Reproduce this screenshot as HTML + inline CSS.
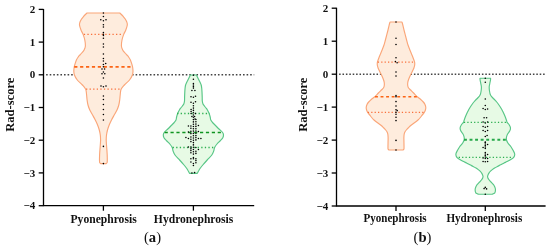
<!DOCTYPE html>
<html><head><meta charset="utf-8"><title>Rad-score violin plots</title>
<style>
html,body{margin:0;padding:0;background:#fff;}
body{width:550px;height:250px;overflow:hidden;}
svg{display:block;}
text{font-family:"Liberation Serif","Times New Roman",serif;fill:#111;}
.tk{font-size:11px;font-weight:bold;}
.cat{font-weight:bold;}
.yl{font-size:12.6px;font-weight:bold;}
.cap{font-size:14.6px;}
</style></head><body>
<svg width="550" height="250" viewBox="0 0 550 250">
<rect width="550" height="250" fill="#fff"/>
<line x1="46.1" y1="74.8" x2="254.2" y2="74.8" stroke="#444" stroke-width="1.5" stroke-dasharray="1.6 1.98"/>
<path d="M119.80,13.00 C120.07,13.25 120.80,13.88 121.40,14.50 C122.00,15.12 122.73,15.92 123.40,16.70 C124.07,17.48 124.83,18.32 125.40,19.20 C125.97,20.08 126.48,21.03 126.80,22.00 C127.12,22.97 127.47,23.67 127.30,25.00 C127.13,26.33 126.40,28.43 125.80,30.00 C125.20,31.57 124.33,32.73 123.70,34.40 C123.07,36.07 122.38,38.07 122.00,40.00 C121.62,41.93 121.28,44.33 121.40,46.00 C121.52,47.67 122.10,48.83 122.70,50.00 C123.30,51.17 124.30,52.17 125.00,53.00 C125.70,53.83 126.30,54.33 126.90,55.00 C127.50,55.67 128.02,56.17 128.60,57.00 C129.18,57.83 129.87,58.83 130.40,60.00 C130.93,61.17 131.43,62.83 131.80,64.00 C132.17,65.17 132.40,65.83 132.60,67.00 C132.80,68.17 133.03,69.67 133.00,71.00 C132.97,72.33 132.98,73.50 132.40,75.00 C131.82,76.50 130.83,78.33 129.50,80.00 C128.17,81.67 125.80,83.47 124.40,85.00 C123.00,86.53 121.78,87.70 121.10,89.20 C120.42,90.70 120.53,92.20 120.30,94.00 C120.07,95.80 119.95,98.17 119.70,100.00 C119.45,101.83 119.25,103.33 118.80,105.00 C118.35,106.67 117.77,108.33 117.00,110.00 C116.23,111.67 115.12,113.33 114.20,115.00 C113.28,116.67 112.33,118.33 111.50,120.00 C110.67,121.67 109.87,123.33 109.20,125.00 C108.53,126.67 107.95,128.33 107.50,130.00 C107.05,131.67 106.72,133.33 106.50,135.00 C106.28,136.67 106.20,138.33 106.20,140.00 C106.20,141.67 106.38,143.33 106.50,145.00 C106.62,146.67 106.78,148.33 106.90,150.00 C107.02,151.67 107.13,153.33 107.20,155.00 C107.27,156.67 107.32,158.73 107.30,160.00 C107.28,161.27 107.30,162.00 107.10,162.60 C106.90,163.20 106.27,163.43 106.10,163.60 L100.70,163.60 L100.70,163.60 C100.53,163.43 99.90,163.20 99.70,162.60 C99.50,162.00 99.52,161.27 99.50,160.00 C99.48,158.73 99.53,156.67 99.60,155.00 C99.67,153.33 99.78,151.67 99.90,150.00 C100.02,148.33 100.18,146.67 100.30,145.00 C100.42,143.33 100.60,141.67 100.60,140.00 C100.60,138.33 100.52,136.67 100.30,135.00 C100.08,133.33 99.75,131.67 99.30,130.00 C98.85,128.33 98.27,126.67 97.60,125.00 C96.93,123.33 96.13,121.67 95.30,120.00 C94.47,118.33 93.52,116.67 92.60,115.00 C91.68,113.33 90.57,111.67 89.80,110.00 C89.03,108.33 88.45,106.67 88.00,105.00 C87.55,103.33 87.35,101.83 87.10,100.00 C86.85,98.17 86.73,95.80 86.50,94.00 C86.27,92.20 86.38,90.70 85.70,89.20 C85.02,87.70 83.80,86.53 82.40,85.00 C81.00,83.47 78.63,81.67 77.30,80.00 C75.97,78.33 74.98,76.50 74.40,75.00 C73.82,73.50 73.83,72.33 73.80,71.00 C73.77,69.67 74.00,68.17 74.20,67.00 C74.40,65.83 74.63,65.17 75.00,64.00 C75.37,62.83 75.87,61.17 76.40,60.00 C76.93,58.83 77.62,57.83 78.20,57.00 C78.78,56.17 79.30,55.67 79.90,55.00 C80.50,54.33 81.10,53.83 81.80,53.00 C82.50,52.17 83.50,51.17 84.10,50.00 C84.70,48.83 85.28,47.67 85.40,46.00 C85.52,44.33 85.18,41.93 84.80,40.00 C84.42,38.07 83.73,36.07 83.10,34.40 C82.47,32.73 81.60,31.57 81.00,30.00 C80.40,28.43 79.67,26.33 79.50,25.00 C79.33,23.67 79.68,22.97 80.00,22.00 C80.32,21.03 80.83,20.08 81.40,19.20 C81.97,18.32 82.73,17.48 83.40,16.70 C84.07,15.92 84.80,15.12 85.40,14.50 C86.00,13.88 86.73,13.25 87.00,13.00 Z" fill="#FEECDD" stroke="#FAA679" stroke-width="1.15" stroke-linejoin="round"/>
<line x1="83.8" y1="34.4" x2="123.0" y2="34.4" stroke="#F9703C" stroke-width="1.3" stroke-dasharray="1.3 2.28"/>
<line x1="74.2" y1="66.9" x2="132.6" y2="66.9" stroke="#FB6415" stroke-width="1.75" stroke-dasharray="3.2 2.7"/>
<line x1="86.0" y1="89.2" x2="120.8" y2="89.2" stroke="#F9703C" stroke-width="1.3" stroke-dasharray="1.3 2.28"/>
<path d="M196.40,75.00 C196.57,75.33 196.98,76.17 197.40,77.00 C197.82,77.83 198.40,79.00 198.90,80.00 C199.40,81.00 200.02,82.17 200.40,83.00 C200.78,83.83 200.98,84.17 201.20,85.00 C201.42,85.83 201.57,86.83 201.70,88.00 C201.83,89.17 201.92,90.50 202.00,92.00 C202.08,93.50 202.15,95.50 202.20,97.00 C202.25,98.50 202.17,99.83 202.30,101.00 C202.43,102.17 202.65,103.17 203.00,104.00 C203.35,104.83 203.90,105.33 204.40,106.00 C204.90,106.67 205.50,107.33 206.00,108.00 C206.50,108.67 206.88,109.08 207.40,110.00 C207.92,110.92 208.63,112.33 209.10,113.50 C209.57,114.67 209.92,115.92 210.20,117.00 C210.48,118.08 210.33,119.00 210.80,120.00 C211.27,121.00 212.13,122.00 213.00,123.00 C213.87,124.00 215.00,125.00 216.00,126.00 C217.00,127.00 217.90,127.92 219.00,129.00 C220.10,130.08 221.85,131.50 222.60,132.50 C223.35,133.50 223.48,134.08 223.50,135.00 C223.52,135.92 223.28,137.00 222.70,138.00 C222.12,139.00 220.95,140.00 220.00,141.00 C219.05,142.00 217.90,142.92 217.00,144.00 C216.10,145.08 215.15,146.33 214.60,147.50 C214.05,148.67 214.17,149.75 213.70,151.00 C213.23,152.25 212.88,153.50 211.80,155.00 C210.72,156.50 208.70,158.33 207.20,160.00 C205.70,161.67 203.93,163.67 202.80,165.00 C201.67,166.33 201.02,167.17 200.40,168.00 C199.78,168.83 199.50,169.33 199.10,170.00 C198.70,170.67 198.30,171.45 198.00,172.00 C197.70,172.55 197.42,173.08 197.30,173.30 L189.50,173.30 L189.50,173.30 C189.38,173.08 189.10,172.55 188.80,172.00 C188.50,171.45 188.10,170.67 187.70,170.00 C187.30,169.33 187.02,168.83 186.40,168.00 C185.78,167.17 185.13,166.33 184.00,165.00 C182.87,163.67 181.10,161.67 179.60,160.00 C178.10,158.33 176.08,156.50 175.00,155.00 C173.92,153.50 173.57,152.25 173.10,151.00 C172.63,149.75 172.75,148.67 172.20,147.50 C171.65,146.33 170.70,145.08 169.80,144.00 C168.90,142.92 167.75,142.00 166.80,141.00 C165.85,140.00 164.68,139.00 164.10,138.00 C163.52,137.00 163.28,135.92 163.30,135.00 C163.32,134.08 163.45,133.50 164.20,132.50 C164.95,131.50 166.70,130.08 167.80,129.00 C168.90,127.92 169.80,127.00 170.80,126.00 C171.80,125.00 172.93,124.00 173.80,123.00 C174.67,122.00 175.53,121.00 176.00,120.00 C176.47,119.00 176.32,118.08 176.60,117.00 C176.88,115.92 177.23,114.67 177.70,113.50 C178.17,112.33 178.88,110.92 179.40,110.00 C179.92,109.08 180.30,108.67 180.80,108.00 C181.30,107.33 181.90,106.67 182.40,106.00 C182.90,105.33 183.45,104.83 183.80,104.00 C184.15,103.17 184.37,102.17 184.50,101.00 C184.63,99.83 184.55,98.50 184.60,97.00 C184.65,95.50 184.72,93.50 184.80,92.00 C184.88,90.50 184.97,89.17 185.10,88.00 C185.23,86.83 185.38,85.83 185.60,85.00 C185.82,84.17 186.02,83.83 186.40,83.00 C186.78,82.17 187.40,81.00 187.90,80.00 C188.40,79.00 188.98,77.83 189.40,77.00 C189.82,76.17 190.23,75.33 190.40,75.00 Z" fill="#E7FAE5" stroke="#58C686" stroke-width="1.15" stroke-linejoin="round"/>
<line x1="177.1" y1="113.5" x2="209.7" y2="113.5" stroke="#2DB050" stroke-width="1.3" stroke-dasharray="1.3 2.28"/>
<line x1="164.6" y1="132.5" x2="222.2" y2="132.5" stroke="#0F9420" stroke-width="1.45" stroke-dasharray="3.2 2.7"/>
<line x1="172.6" y1="147.5" x2="214.2" y2="147.5" stroke="#2DB050" stroke-width="1.3" stroke-dasharray="1.3 2.28"/>
<circle cx="103.4" cy="13.0" r="0.8"/>
<circle cx="103.4" cy="16.5" r="0.8"/>
<circle cx="100.8" cy="19.8" r="0.8"/>
<circle cx="106.0" cy="19.8" r="0.8"/>
<circle cx="103.4" cy="20.8" r="0.8"/>
<circle cx="103.4" cy="24.7" r="0.8"/>
<circle cx="103.4" cy="27.0" r="0.8"/>
<circle cx="103.4" cy="32.5" r="0.8"/>
<circle cx="103.4" cy="34.3" r="0.8"/>
<circle cx="103.4" cy="35.5" r="0.8"/>
<circle cx="103.4" cy="38.3" r="0.8"/>
<circle cx="103.4" cy="44.0" r="0.8"/>
<circle cx="103.4" cy="47.0" r="0.8"/>
<circle cx="103.4" cy="54.0" r="0.8"/>
<circle cx="103.4" cy="58.5" r="0.8"/>
<circle cx="103.4" cy="61.0" r="0.8"/>
<circle cx="103.4" cy="64.5" r="0.8"/>
<circle cx="105.7" cy="63.5" r="0.8"/>
<circle cx="103.4" cy="66.8" r="0.8"/>
<circle cx="102.0" cy="69.0" r="0.8"/>
<circle cx="104.6" cy="69.0" r="0.8"/>
<circle cx="103.4" cy="72.0" r="0.8"/>
<circle cx="102.0" cy="73.8" r="0.8"/>
<circle cx="104.8" cy="73.8" r="0.8"/>
<circle cx="103.4" cy="78.0" r="0.8"/>
<circle cx="101.0" cy="86.0" r="0.8"/>
<circle cx="103.4" cy="86.7" r="0.8"/>
<circle cx="106.0" cy="86.0" r="0.8"/>
<circle cx="103.4" cy="96.0" r="0.8"/>
<circle cx="103.4" cy="99.5" r="0.8"/>
<circle cx="103.4" cy="104.5" r="0.8"/>
<circle cx="103.4" cy="109.5" r="0.8"/>
<circle cx="103.4" cy="114.5" r="0.8"/>
<circle cx="103.4" cy="120.0" r="0.8"/>
<circle cx="103.4" cy="146.4" r="0.8"/>
<circle cx="103.4" cy="163.6" r="0.8"/>
<circle cx="193.4" cy="75.3" r="0.8"/>
<circle cx="193.4" cy="79.3" r="0.8"/>
<circle cx="193.4" cy="83.5" r="0.8"/>
<circle cx="193.4" cy="85.0" r="0.8"/>
<circle cx="193.4" cy="86.6" r="0.8"/>
<circle cx="193.4" cy="88.1" r="0.8"/>
<circle cx="191.9" cy="90.5" r="0.8"/>
<circle cx="194.9" cy="90.5" r="0.8"/>
<circle cx="191.0" cy="96.7" r="0.8"/>
<circle cx="193.4" cy="97.3" r="0.8"/>
<circle cx="195.5" cy="96.3" r="0.8"/>
<circle cx="191.0" cy="102.3" r="0.8"/>
<circle cx="193.4" cy="103.3" r="0.8"/>
<circle cx="195.5" cy="101.7" r="0.8"/>
<circle cx="193.4" cy="105.8" r="0.8"/>
<circle cx="193.4" cy="108.1" r="0.8"/>
<circle cx="193.4" cy="110.4" r="0.8"/>
<circle cx="193.4" cy="112.7" r="0.8"/>
<circle cx="193.4" cy="115.0" r="0.8"/>
<circle cx="193.4" cy="117.3" r="0.8"/>
<circle cx="193.4" cy="119.6" r="0.8"/>
<circle cx="193.4" cy="121.9" r="0.8"/>
<circle cx="193.4" cy="124.2" r="0.8"/>
<circle cx="193.4" cy="126.5" r="0.8"/>
<circle cx="193.4" cy="128.8" r="0.8"/>
<circle cx="193.4" cy="131.1" r="0.8"/>
<circle cx="193.4" cy="133.4" r="0.8"/>
<circle cx="193.4" cy="135.7" r="0.8"/>
<circle cx="193.4" cy="138.0" r="0.8"/>
<circle cx="193.4" cy="140.3" r="0.8"/>
<circle cx="193.4" cy="142.6" r="0.8"/>
<circle cx="193.4" cy="144.9" r="0.8"/>
<circle cx="193.4" cy="147.2" r="0.8"/>
<circle cx="193.4" cy="149.5" r="0.8"/>
<circle cx="193.4" cy="151.8" r="0.8"/>
<circle cx="193.4" cy="154.1" r="0.8"/>
<circle cx="193.4" cy="157.5" r="0.8"/>
<circle cx="193.4" cy="158.8" r="0.8"/>
<circle cx="193.4" cy="163.5" r="0.8"/>
<circle cx="193.4" cy="165.5" r="0.8"/>
<circle cx="191.1" cy="109.5" r="0.8"/>
<circle cx="191.1" cy="111.5" r="0.8"/>
<circle cx="191.1" cy="113.5" r="0.8"/>
<circle cx="195.4" cy="113.5" r="0.8"/>
<circle cx="191.9" cy="116.5" r="0.8"/>
<circle cx="194.6" cy="116.5" r="0.8"/>
<circle cx="195.0" cy="119.0" r="0.8"/>
<circle cx="195.9" cy="119.5" r="0.8"/>
<circle cx="195.9" cy="121.8" r="0.8"/>
<circle cx="195.9" cy="124.1" r="0.8"/>
<circle cx="195.9" cy="126.4" r="0.8"/>
<circle cx="195.9" cy="128.7" r="0.8"/>
<circle cx="195.9" cy="131.0" r="0.8"/>
<circle cx="190.9" cy="126.0" r="0.8"/>
<circle cx="190.9" cy="128.3" r="0.8"/>
<circle cx="188.4" cy="126.0" r="0.8"/>
<circle cx="198.4" cy="125.5" r="0.8"/>
<circle cx="188.4" cy="132.0" r="0.8"/>
<circle cx="198.4" cy="131.5" r="0.8"/>
<circle cx="190.9" cy="131.3" r="0.8"/>
<circle cx="190.9" cy="133.6" r="0.8"/>
<circle cx="195.9" cy="133.3" r="0.8"/>
<circle cx="195.9" cy="135.6" r="0.8"/>
<circle cx="185.9" cy="137.5" r="0.8"/>
<circle cx="188.4" cy="138.5" r="0.8"/>
<circle cx="198.4" cy="138.5" r="0.8"/>
<circle cx="200.9" cy="138.5" r="0.8"/>
<circle cx="190.9" cy="137.0" r="0.8"/>
<circle cx="190.9" cy="139.3" r="0.8"/>
<circle cx="190.9" cy="141.6" r="0.8"/>
<circle cx="195.9" cy="137.6" r="0.8"/>
<circle cx="195.9" cy="139.9" r="0.8"/>
<circle cx="188.4" cy="147.0" r="0.8"/>
<circle cx="190.9" cy="147.0" r="0.8"/>
<circle cx="190.9" cy="148.8" r="0.8"/>
<circle cx="195.9" cy="147.5" r="0.8"/>
<circle cx="198.4" cy="149.5" r="0.8"/>
<circle cx="190.9" cy="150.6" r="0.8"/>
<circle cx="190.9" cy="152.8" r="0.8"/>
<circle cx="195.9" cy="151.2" r="0.8"/>
<circle cx="195.9" cy="153.4" r="0.8"/>
<circle cx="190.9" cy="158.8" r="0.8"/>
<circle cx="195.9" cy="158.8" r="0.8"/>
<circle cx="195.9" cy="160.6" r="0.8"/>
<circle cx="190.9" cy="162.0" r="0.8"/>
<circle cx="195.9" cy="162.8" r="0.8"/>
<circle cx="191.9" cy="173.0" r="0.8"/>
<circle cx="194.6" cy="172.6" r="0.8"/>
<path d="M43.5,8.9 V205.7 H254.2" fill="none" stroke="#000" stroke-width="1.3"/>
<line x1="38.7" y1="205.7" x2="43.5" y2="205.7" stroke="#000" stroke-width="1.3"/>
<text x="35.2" y="209.2" text-anchor="end" class="tk">−4</text>
<line x1="38.7" y1="172.9" x2="43.5" y2="172.9" stroke="#000" stroke-width="1.3"/>
<text x="35.2" y="176.5" text-anchor="end" class="tk">−3</text>
<line x1="38.7" y1="140.2" x2="43.5" y2="140.2" stroke="#000" stroke-width="1.3"/>
<text x="35.2" y="143.8" text-anchor="end" class="tk">−2</text>
<line x1="38.7" y1="107.5" x2="43.5" y2="107.5" stroke="#000" stroke-width="1.3"/>
<text x="35.2" y="111.1" text-anchor="end" class="tk">−1</text>
<line x1="38.7" y1="74.8" x2="43.5" y2="74.8" stroke="#000" stroke-width="1.3"/>
<text x="35.2" y="78.4" text-anchor="end" class="tk">0</text>
<line x1="38.7" y1="42.1" x2="43.5" y2="42.1" stroke="#000" stroke-width="1.3"/>
<text x="35.2" y="45.7" text-anchor="end" class="tk">1</text>
<line x1="38.7" y1="9.4" x2="43.5" y2="9.4" stroke="#000" stroke-width="1.3"/>
<text x="35.2" y="13.0" text-anchor="end" class="tk">2</text>
<line x1="103.4" y1="205.7" x2="103.4" y2="210.7" stroke="#000" stroke-width="1.3"/>
<line x1="193.4" y1="205.7" x2="193.4" y2="210.7" stroke="#000" stroke-width="1.3"/>
<text transform="translate(103.6,222.8) scale(1,1)" text-anchor="middle" class="cat" font-size="11.6">Pyonephrosis</text>
<text transform="translate(193.6,222.8) scale(1,1)" text-anchor="middle" class="cat" font-size="11.6">Hydronephrosis</text>
<text transform="translate(14.1,104.7) rotate(-90)" text-anchor="middle" class="yl">Rad-score</text>
<text x="152.5" y="241.5" text-anchor="middle" class="cap">(<tspan font-weight="bold">a</tspan>)</text>
<line x1="339.1" y1="74.2" x2="545.6" y2="74.2" stroke="#444" stroke-width="1.5" stroke-dasharray="1.55 1.85"/>
<path d="M401.80,22.00 C401.88,22.17 401.93,21.67 402.30,23.00 C402.67,24.33 403.28,27.17 404.00,30.00 C404.72,32.83 405.93,37.50 406.60,40.00 C407.27,42.50 407.45,43.33 408.00,45.00 C408.55,46.67 409.17,48.17 409.90,50.00 C410.63,51.83 411.73,54.33 412.40,56.00 C413.07,57.67 413.53,58.97 413.90,60.00 C414.27,61.03 414.47,61.37 414.60,62.20 C414.73,63.03 414.82,64.03 414.70,65.00 C414.58,65.97 414.18,67.17 413.90,68.00 C413.62,68.83 413.57,68.83 413.00,70.00 C412.43,71.17 411.27,73.33 410.50,75.00 C409.73,76.67 408.87,78.67 408.40,80.00 C407.93,81.33 407.80,82.00 407.70,83.00 C407.60,84.00 407.65,85.17 407.80,86.00 C407.95,86.83 408.13,87.33 408.60,88.00 C409.07,88.67 409.77,89.17 410.60,90.00 C411.43,90.83 412.50,91.88 413.60,93.00 C414.70,94.12 416.10,95.70 417.20,96.70 C418.30,97.70 419.18,98.12 420.20,99.00 C421.22,99.88 422.50,101.08 423.30,102.00 C424.10,102.92 424.58,103.58 425.00,104.50 C425.42,105.42 425.73,106.58 425.80,107.50 C425.87,108.42 425.65,109.18 425.40,110.00 C425.15,110.82 424.95,111.40 424.30,112.40 C423.65,113.40 422.55,114.73 421.50,116.00 C420.45,117.27 419.68,118.50 418.00,120.00 C416.32,121.50 413.03,123.67 411.40,125.00 C409.77,126.33 409.05,127.17 408.20,128.00 C407.35,128.83 406.85,129.33 406.30,130.00 C405.75,130.67 405.25,131.33 404.90,132.00 C404.55,132.67 404.37,133.17 404.20,134.00 C404.03,134.83 403.95,136.00 403.90,137.00 C403.85,138.00 403.88,138.67 403.90,140.00 C403.92,141.33 403.98,143.57 404.00,145.00 C404.02,146.43 404.07,147.85 404.00,148.60 C403.93,149.35 403.80,149.27 403.60,149.50 C403.40,149.73 402.93,149.92 402.80,150.00 L389.20,150.00 L389.20,150.00 C389.07,149.92 388.60,149.73 388.40,149.50 C388.20,149.27 388.07,149.35 388.00,148.60 C387.93,147.85 387.98,146.43 388.00,145.00 C388.02,143.57 388.08,141.33 388.10,140.00 C388.12,138.67 388.15,138.00 388.10,137.00 C388.05,136.00 387.97,134.83 387.80,134.00 C387.63,133.17 387.45,132.67 387.10,132.00 C386.75,131.33 386.25,130.67 385.70,130.00 C385.15,129.33 384.65,128.83 383.80,128.00 C382.95,127.17 382.23,126.33 380.60,125.00 C378.97,123.67 375.68,121.50 374.00,120.00 C372.32,118.50 371.55,117.27 370.50,116.00 C369.45,114.73 368.35,113.40 367.70,112.40 C367.05,111.40 366.85,110.82 366.60,110.00 C366.35,109.18 366.13,108.42 366.20,107.50 C366.27,106.58 366.58,105.42 367.00,104.50 C367.42,103.58 367.90,102.92 368.70,102.00 C369.50,101.08 370.78,99.88 371.80,99.00 C372.82,98.12 373.70,97.70 374.80,96.70 C375.90,95.70 377.30,94.12 378.40,93.00 C379.50,91.88 380.57,90.83 381.40,90.00 C382.23,89.17 382.93,88.67 383.40,88.00 C383.87,87.33 384.05,86.83 384.20,86.00 C384.35,85.17 384.40,84.00 384.30,83.00 C384.20,82.00 384.07,81.33 383.60,80.00 C383.13,78.67 382.27,76.67 381.50,75.00 C380.73,73.33 379.57,71.17 379.00,70.00 C378.43,68.83 378.38,68.83 378.10,68.00 C377.82,67.17 377.42,65.97 377.30,65.00 C377.18,64.03 377.27,63.03 377.40,62.20 C377.53,61.37 377.73,61.03 378.10,60.00 C378.47,58.97 378.93,57.67 379.60,56.00 C380.27,54.33 381.37,51.83 382.10,50.00 C382.83,48.17 383.45,46.67 384.00,45.00 C384.55,43.33 384.73,42.50 385.40,40.00 C386.07,37.50 387.28,32.83 388.00,30.00 C388.72,27.17 389.33,24.33 389.70,23.00 C390.07,21.67 390.12,22.17 390.20,22.00 Z" fill="#FEECDD" stroke="#FAA679" stroke-width="1.15" stroke-linejoin="round"/>
<line x1="377.8" y1="62.1" x2="414.2" y2="62.1" stroke="#F9703C" stroke-width="1.3" stroke-dasharray="1.25 2.15"/>
<line x1="375.0" y1="96.7" x2="417.0" y2="96.7" stroke="#FB6415" stroke-width="1.4" stroke-dasharray="2.9 2.66"/>
<line x1="367.8" y1="112.4" x2="424.2" y2="112.4" stroke="#F9703C" stroke-width="1.3" stroke-dasharray="1.25 2.15"/>
<path d="M490.60,78.20 C490.58,78.50 490.62,79.20 490.50,80.00 C490.38,80.80 490.10,82.00 489.90,83.00 C489.70,84.00 489.42,85.17 489.30,86.00 C489.18,86.83 489.17,87.17 489.20,88.00 C489.23,88.83 489.35,90.00 489.50,91.00 C489.65,92.00 489.83,93.17 490.10,94.00 C490.37,94.83 490.63,95.33 491.10,96.00 C491.57,96.67 492.27,97.33 492.90,98.00 C493.53,98.67 494.27,99.33 494.90,100.00 C495.53,100.67 496.08,101.25 496.70,102.00 C497.32,102.75 498.00,103.67 498.60,104.50 C499.20,105.33 499.77,106.17 500.30,107.00 C500.83,107.83 501.33,108.67 501.80,109.50 C502.27,110.33 502.52,110.75 503.10,112.00 C503.68,113.25 504.70,115.50 505.30,117.00 C505.90,118.50 506.40,120.10 506.70,121.00 C507.00,121.90 506.67,121.73 507.10,122.40 C507.53,123.07 508.73,124.07 509.30,125.00 C509.87,125.93 510.43,127.00 510.50,128.00 C510.57,129.00 510.18,130.00 509.70,131.00 C509.22,132.00 508.13,133.00 507.60,134.00 C507.07,135.00 506.68,136.00 506.50,137.00 C506.32,138.00 506.27,139.00 506.50,140.00 C506.73,141.00 507.13,141.83 507.90,143.00 C508.67,144.17 510.27,145.83 511.10,147.00 C511.93,148.17 512.30,148.83 512.90,150.00 C513.50,151.17 514.57,152.77 514.70,154.00 C514.83,155.23 514.35,156.48 513.70,157.40 C513.05,158.32 511.90,158.80 510.80,159.50 C509.70,160.20 508.22,161.02 507.10,161.60 C505.98,162.18 505.17,162.47 504.10,163.00 C503.03,163.53 501.80,164.23 500.70,164.80 C499.60,165.37 498.52,165.87 497.50,166.40 C496.48,166.93 495.47,167.47 494.60,168.00 C493.73,168.53 492.98,169.07 492.30,169.60 C491.62,170.13 491.03,170.67 490.50,171.20 C489.97,171.73 489.48,172.27 489.10,172.80 C488.72,173.33 488.45,173.82 488.20,174.40 C487.95,174.98 487.65,175.70 487.60,176.30 C487.55,176.90 487.63,177.38 487.90,178.00 C488.17,178.62 488.68,179.33 489.20,180.00 C489.72,180.67 490.32,181.27 491.00,182.00 C491.68,182.73 492.67,183.57 493.30,184.40 C493.93,185.23 494.45,186.23 494.80,187.00 C495.15,187.77 495.32,188.25 495.40,189.00 C495.48,189.75 495.40,190.87 495.30,191.50 C495.20,192.13 495.05,192.45 494.80,192.80 C494.55,193.15 494.25,193.37 493.80,193.60 C493.35,193.83 492.38,194.10 492.10,194.20 L478.50,194.20 L478.50,194.20 C478.22,194.10 477.25,193.83 476.80,193.60 C476.35,193.37 476.05,193.15 475.80,192.80 C475.55,192.45 475.40,192.13 475.30,191.50 C475.20,190.87 475.12,189.75 475.20,189.00 C475.28,188.25 475.45,187.77 475.80,187.00 C476.15,186.23 476.67,185.23 477.30,184.40 C477.93,183.57 478.92,182.73 479.60,182.00 C480.28,181.27 480.88,180.67 481.40,180.00 C481.92,179.33 482.43,178.62 482.70,178.00 C482.97,177.38 483.05,176.90 483.00,176.30 C482.95,175.70 482.65,174.98 482.40,174.40 C482.15,173.82 481.88,173.33 481.50,172.80 C481.12,172.27 480.63,171.73 480.10,171.20 C479.57,170.67 478.98,170.13 478.30,169.60 C477.62,169.07 476.87,168.53 476.00,168.00 C475.13,167.47 474.12,166.93 473.10,166.40 C472.08,165.87 471.00,165.37 469.90,164.80 C468.80,164.23 467.57,163.53 466.50,163.00 C465.43,162.47 464.62,162.18 463.50,161.60 C462.38,161.02 460.90,160.20 459.80,159.50 C458.70,158.80 457.55,158.32 456.90,157.40 C456.25,156.48 455.77,155.23 455.90,154.00 C456.03,152.77 457.10,151.17 457.70,150.00 C458.30,148.83 458.67,148.17 459.50,147.00 C460.33,145.83 461.93,144.17 462.70,143.00 C463.47,141.83 463.87,141.00 464.10,140.00 C464.33,139.00 464.28,138.00 464.10,137.00 C463.92,136.00 463.53,135.00 463.00,134.00 C462.47,133.00 461.38,132.00 460.90,131.00 C460.42,130.00 460.03,129.00 460.10,128.00 C460.17,127.00 460.73,125.93 461.30,125.00 C461.87,124.07 463.07,123.07 463.50,122.40 C463.93,121.73 463.60,121.90 463.90,121.00 C464.20,120.10 464.70,118.50 465.30,117.00 C465.90,115.50 466.92,113.25 467.50,112.00 C468.08,110.75 468.33,110.33 468.80,109.50 C469.27,108.67 469.77,107.83 470.30,107.00 C470.83,106.17 471.40,105.33 472.00,104.50 C472.60,103.67 473.28,102.75 473.90,102.00 C474.52,101.25 475.07,100.67 475.70,100.00 C476.33,99.33 477.07,98.67 477.70,98.00 C478.33,97.33 479.03,96.67 479.50,96.00 C479.97,95.33 480.23,94.83 480.50,94.00 C480.77,93.17 480.95,92.00 481.10,91.00 C481.25,90.00 481.37,88.83 481.40,88.00 C481.43,87.17 481.42,86.83 481.30,86.00 C481.18,85.17 480.90,84.00 480.70,83.00 C480.50,82.00 480.22,80.80 480.10,80.00 C479.98,79.20 480.02,78.50 480.00,78.20 Z" fill="#E7FAE5" stroke="#58C686" stroke-width="1.15" stroke-linejoin="round"/>
<line x1="463.9" y1="122.4" x2="506.7" y2="122.4" stroke="#2DB050" stroke-width="1.3" stroke-dasharray="1.25 2.15"/>
<line x1="464.0" y1="139.8" x2="506.6" y2="139.8" stroke="#27A84A" stroke-width="2.0" stroke-dasharray="2.9 2.66"/>
<line x1="458.7" y1="157.4" x2="511.9" y2="157.4" stroke="#2DB050" stroke-width="1.3" stroke-dasharray="1.25 2.15"/>
<circle cx="396.0" cy="22.0" r="0.8"/>
<circle cx="396.0" cy="38.3" r="0.8"/>
<circle cx="396.0" cy="44.5" r="0.8"/>
<circle cx="396.0" cy="57.7" r="0.8"/>
<circle cx="395.4" cy="61.5" r="0.8"/>
<circle cx="397.1" cy="62.7" r="0.8"/>
<circle cx="396.0" cy="72.0" r="0.8"/>
<circle cx="396.0" cy="76.0" r="0.8"/>
<circle cx="396.0" cy="95.6" r="0.8"/>
<circle cx="396.0" cy="96.8" r="0.8"/>
<circle cx="396.0" cy="101.6" r="0.8"/>
<circle cx="396.0" cy="106.0" r="0.8"/>
<circle cx="396.0" cy="109.8" r="0.8"/>
<circle cx="397.2" cy="110.6" r="0.8"/>
<circle cx="396.0" cy="112.2" r="0.8"/>
<circle cx="396.0" cy="114.2" r="0.8"/>
<circle cx="396.0" cy="117.2" r="0.8"/>
<circle cx="396.0" cy="120.6" r="0.8"/>
<circle cx="396.0" cy="140.4" r="0.8"/>
<circle cx="396.0" cy="150.0" r="0.8"/>
<circle cx="485.3" cy="78.2" r="0.8"/>
<circle cx="485.3" cy="82.2" r="0.8"/>
<circle cx="485.3" cy="99.0" r="0.8"/>
<circle cx="485.3" cy="105.5" r="0.8"/>
<circle cx="483.1" cy="108.5" r="0.8"/>
<circle cx="485.3" cy="109.5" r="0.8"/>
<circle cx="487.6" cy="109.0" r="0.8"/>
<circle cx="484.1" cy="117.7" r="0.8"/>
<circle cx="486.6" cy="117.7" r="0.8"/>
<circle cx="483.1" cy="122.0" r="0.8"/>
<circle cx="485.3" cy="123.0" r="0.8"/>
<circle cx="487.6" cy="122.0" r="0.8"/>
<circle cx="483.1" cy="126.5" r="0.8"/>
<circle cx="485.3" cy="127.2" r="0.8"/>
<circle cx="487.6" cy="126.5" r="0.8"/>
<circle cx="483.1" cy="130.5" r="0.8"/>
<circle cx="485.3" cy="131.5" r="0.8"/>
<circle cx="487.6" cy="130.5" r="0.8"/>
<circle cx="485.3" cy="136.5" r="0.8"/>
<circle cx="487.1" cy="135.5" r="0.8"/>
<circle cx="485.3" cy="142.0" r="0.8"/>
<circle cx="485.3" cy="142.5" r="0.8"/>
<circle cx="485.3" cy="144.0" r="0.8"/>
<circle cx="485.3" cy="145.5" r="0.8"/>
<circle cx="485.3" cy="147.0" r="0.8"/>
<circle cx="485.3" cy="148.5" r="0.8"/>
<circle cx="487.6" cy="144.5" r="0.8"/>
<circle cx="483.1" cy="147.5" r="0.8"/>
<circle cx="485.3" cy="152.5" r="0.8"/>
<circle cx="485.3" cy="154.0" r="0.8"/>
<circle cx="485.3" cy="155.5" r="0.8"/>
<circle cx="485.3" cy="157.0" r="0.8"/>
<circle cx="485.3" cy="158.5" r="0.8"/>
<circle cx="487.6" cy="154.5" r="0.8"/>
<circle cx="487.6" cy="158.5" r="0.8"/>
<circle cx="483.1" cy="158.0" r="0.8"/>
<circle cx="483.1" cy="161.5" r="0.8"/>
<circle cx="485.3" cy="161.7" r="0.8"/>
<circle cx="487.6" cy="161.5" r="0.8"/>
<circle cx="484.1" cy="188.6" r="0.8"/>
<circle cx="485.3" cy="187.4" r="0.8"/>
<circle cx="486.6" cy="188.9" r="0.8"/>
<circle cx="485.3" cy="194.2" r="0.8"/>
<path d="M336.5,7.8 V206.0 H545.6" fill="none" stroke="#000" stroke-width="1.3"/>
<line x1="331.7" y1="206.0" x2="336.5" y2="206.0" stroke="#000" stroke-width="1.3"/>
<text x="328.2" y="209.6" text-anchor="end" class="tk">−4</text>
<line x1="331.7" y1="173.0" x2="336.5" y2="173.0" stroke="#000" stroke-width="1.3"/>
<text x="328.2" y="176.6" text-anchor="end" class="tk">−3</text>
<line x1="331.7" y1="140.1" x2="336.5" y2="140.1" stroke="#000" stroke-width="1.3"/>
<text x="328.2" y="143.7" text-anchor="end" class="tk">−2</text>
<line x1="331.7" y1="107.1" x2="336.5" y2="107.1" stroke="#000" stroke-width="1.3"/>
<text x="328.2" y="110.7" text-anchor="end" class="tk">−1</text>
<line x1="331.7" y1="74.2" x2="336.5" y2="74.2" stroke="#000" stroke-width="1.3"/>
<text x="328.2" y="77.8" text-anchor="end" class="tk">0</text>
<line x1="331.7" y1="41.2" x2="336.5" y2="41.2" stroke="#000" stroke-width="1.3"/>
<text x="328.2" y="44.8" text-anchor="end" class="tk">1</text>
<line x1="331.7" y1="8.2" x2="336.5" y2="8.2" stroke="#000" stroke-width="1.3"/>
<text x="328.2" y="11.8" text-anchor="end" class="tk">2</text>
<line x1="396" y1="206.0" x2="396" y2="211.0" stroke="#000" stroke-width="1.3"/>
<line x1="485.3" y1="206.0" x2="485.3" y2="211.0" stroke="#000" stroke-width="1.3"/>
<text transform="translate(395.0,222.3) scale(0.9,1)" text-anchor="middle" class="cat" font-size="12.3">Pyonephrosis</text>
<text transform="translate(484.3,222.3) scale(0.9,1)" text-anchor="middle" class="cat" font-size="12.3">Hydronephrosis</text>
<text transform="translate(307.1,104.7) rotate(-90)" text-anchor="middle" class="yl">Rad-score</text>
<text x="422.5" y="241.5" text-anchor="middle" class="cap">(<tspan font-weight="bold">b</tspan>)</text>
</svg>
</body></html>
